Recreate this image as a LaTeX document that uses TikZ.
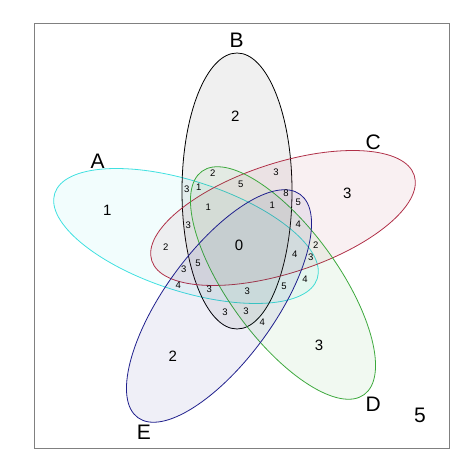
\documentclass[tikz,border=0pt]{standalone}
\usepackage{fontspec}
\setmainfont{Liberation Sans}
\usepackage{xcolor}
\usetikzlibrary{positioning}

\definecolor{colA}{RGB}{64,224,224}
\definecolor{colB}{RGB}{0,0,0}
\definecolor{colC}{RGB}{176,48,72}
\definecolor{colD}{RGB}{60,168,60}
\definecolor{colE}{RGB}{30,30,140}

\begin{document}
\begin{tikzpicture}[x=1pt, y=1pt,
		setA/.style={draw=colA, fill=colA, fill opacity=0.07, line width=0.8pt},
		setB/.style={draw=colB, fill=colB, fill opacity=0.06, line width=0.8pt},
		setC/.style={draw=colC, fill=colC, fill opacity=0.07, line width=0.8pt},
		setD/.style={draw=colD, fill=colD, fill opacity=0.07, line width=0.8pt},
		setE/.style={draw=colE, fill=colE, fill opacity=0.07, line width=0.8pt},
		setname/.style={font=\fontsize{21}{21}\selectfont, inner sep=0pt},
		bigcount/.style={font=\fontsize{15}{15}\selectfont, inner sep=0pt},
		smallcount/.style={font=\fontsize{9.5}{9.5}\selectfont, inner sep=0pt}]
			\useasboundingbox (0,0) rectangle (474,474);
			\draw[gray, line width=1pt] (34,25) rectangle (449,450);
			
			% the five sets
			\draw[setA, rotate around={-18:(186,238)}] (186,238) ellipse (138pt and 55pt);
			\draw[setB, rotate around={90:(237,283)}] (237,283) ellipse (138pt and 55pt);
			\draw[setC, rotate around={18:(283,256)}] (283,256) ellipse (138pt and 55pt);
			\draw[setD, rotate around={-54:(283,191)}] (283,191) ellipse (138pt and 55pt);
			\draw[setE, rotate around={54:(219,168)}] (219,168) ellipse (138pt and 55pt);
			
			\node[setname] (labA) at (97.7,313) {A};
			\node[setname] (labB) at (236.7,433.3) {B};
			\node[setname] (labC) at (373.3,331.3) {C};
			\node[setname] (labD) at (373.3,69.7) {D};
			\node[setname] (labE) at (144,41.7) {E};
			\node[setname] (outside) at (420,58.3) {5};
			
			\node[bigcount] (onlyA) at (107.3,264) {1};
			\node[bigcount] (onlyB) at (235.3,357.3) {2};
			\node[bigcount] (onlyC) at (347.3,280.7) {3};
			\node[bigcount] (onlyD) at (319,129) {3};
			\node[bigcount] (onlyE) at (172.7,118) {2};
			\node[bigcount] (allABCDE) at (239,229) {0};
			
			\foreach \x/\y/\t [count=\k] in {212.7/300.7/2, 276/301.7/3, 240.7/289.3/5,
				186.7/284.7/3, 198.7/286.3/1, 286/280.7/8, 298.3/271.7/5, 208.3/266.7/1,
				272.3/268.3/1, 188.3/248.3/3, 298.3/249.3/4, 165.7/227.3/2, 315.7/229/2,
				294.7/220/4, 310.7/216.3/3, 198/210.7/5, 183.7/204.7/3, 178.3/189/4,
				209.3/184.7/3, 247.3/183/3, 284/188/5, 305/194.7/4, 225/161.7/3,
				246/163/3, 262.3/151.3/4} {
				\node[smallcount] (part\k) at (\x,\y) {\t};
			}
		\end{tikzpicture}
\end{document}
